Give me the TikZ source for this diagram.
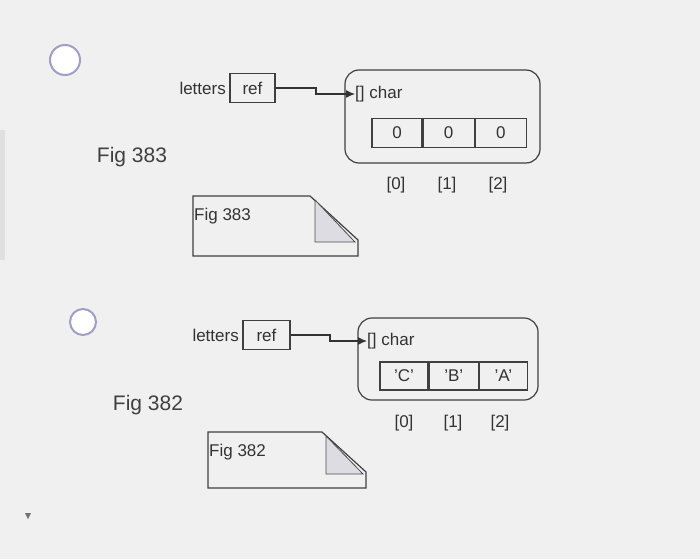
\documentclass[tikz,border=0pt]{standalone}
\usepackage{fontspec}
\usetikzlibrary{arrows.meta}
\setmainfont{Liberation Sans}
\begin{document}
\begin{tikzpicture}[x=1pt,y=-1pt,
  txt/.style={text=black!80,font=\fontsize{17}{19}\selectfont,inner sep=0},
  fig/.style={text=black!75,font=\fontsize{21}{23}\selectfont,inner sep=0},
  cell/.style={draw=black!75,line width=1.2pt,minimum height=29pt,inner sep=0,text=black!80,font=\fontsize{17}{19}\selectfont},
  arr/.style={draw=black!80,line width=1.2pt,-{Latex[length=9pt,width=8pt]}},
  frame/.style={draw=black!75,line width=1.2pt,rounded corners=14pt},
  radio/.style={draw=blue!25!gray!60,line width=2pt,fill=white}]
\fill[black!6] (0,0) rectangle (700,559);
\useasboundingbox (0,0) rectangle (700,559);
\fill[black!12] (0,130) rectangle (5,260);
\fill[black!55] (25,513) -- (31,513) -- (28,519) -- cycle;

% ---- first
\node[radio,circle,minimum size=30pt,inner sep=0] (r1) at (65,60) {};
\node[txt,anchor=east] (l1) at (226,88) {letters};
\node[cell,minimum width=45pt] (ref1) at (252.5,88) {ref};
\node[frame,minimum width=195pt,minimum height=93pt,inner sep=0] (f1) at (442.5,116.5) {};
\node[txt,anchor=west] (c1) at (355,94) {[] char};
\node[cell,minimum width=50pt] (a0) at (397,133) {0};
\node[cell,minimum width=51pt,anchor=west] (a1) at (a0.east) {0};
\node[cell,minimum width=51pt,anchor=west] (a2) at (a1.east) {0};
\node[txt] (i0) at (396,185) {[0]};
\node[txt] (i1) at (447,185) {[1]};
\node[txt] (i2) at (498,185) {[2]};
\coordinate (b1) at (316,88);
\draw[arr] (ref1.east) -- (b1) |- (c1.west);
\node[fig] (fig1) at (132,157) {Fig 383};
\draw[black!75,line width=1.2pt] (193,196) -- (310,196) -- (358,240) -- (358,256) -- (193,256) -- cycle;
\filldraw[draw=black!70,fill=blue!10!gray!25,line width=0.8pt] (315,200) -- (315,242) -- (355,242) -- cycle;
\node[txt,anchor=west] (n1) at (194,216) {Fig 383};

% ---- second
\node[radio,circle,minimum size=26pt,inner sep=0] (r2) at (83,322) {};
\node[txt,anchor=east] (l2) at (239,335) {letters};
\node[cell,minimum width=47pt] (ref2) at (266.5,335) {ref};
\node[frame,minimum width=180pt,minimum height=82pt,inner sep=0] (f2) at (448,359) {};
\node[txt,anchor=west] (c2) at (367,341) {[] char};
\node[cell,minimum width=48pt,minimum height=28pt] (b0) at (404,376) {'C'};
\node[cell,minimum width=49pt,minimum height=28pt,anchor=west] (bb1) at (b0.east) {'B'};
\node[cell,minimum width=48pt,minimum height=28pt,anchor=west] (bb2) at (bb1.east) {'A'};
\node[txt] (j0) at (404,423) {[0]};
\node[txt] (j1) at (453,423) {[1]};
\node[txt] (j2) at (500,423) {[2]};
\coordinate (b2) at (330,335);
\draw[arr] (ref2.east) -- (b2) |- (c2.west);
\node[fig] (fig2) at (148,405) {Fig 382};
\draw[black!75,line width=1.2pt] (208,432) -- (322,432) -- (366,472) -- (366,488) -- (208,488) -- cycle;
\filldraw[draw=black!70,fill=blue!10!gray!25,line width=0.8pt] (326,436) -- (326,474) -- (363,474) -- cycle;
\node[txt,anchor=west] (n2) at (209,452) {Fig 382};
\end{tikzpicture}
\end{document}
